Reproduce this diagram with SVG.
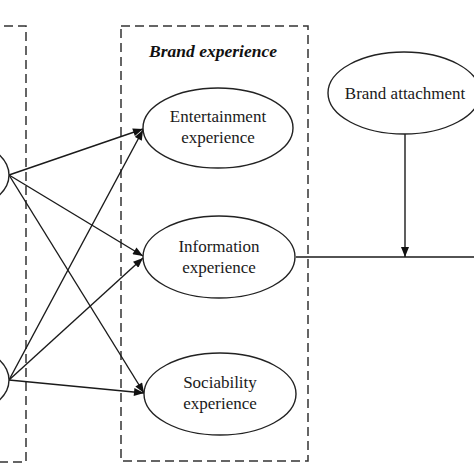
<svg xmlns="http://www.w3.org/2000/svg" width="474" height="474" viewBox="0 0 474 474">
<style>
.box{fill:none;stroke:#333;stroke-width:1.5;stroke-dasharray:9,5}
.node{fill:#fff;stroke:#222;stroke-width:1.4}
.t{font-family:"Liberation Serif","Times New Roman",serif;font-size:17px;fill:#1a1a1a;text-anchor:middle}
.title{font-family:"Liberation Serif","Times New Roman",serif;font-size:17.5px;font-weight:bold;font-style:italic;fill:#111;text-anchor:middle}
.edge{fill:none;stroke:#1a1a1a;stroke-width:1.4}
</style>
<defs>
<marker id="ah" viewBox="0 0 10 8" refX="10" refY="4" markerWidth="11" markerHeight="8" markerUnits="userSpaceOnUse" orient="auto">
<path d="M0,0 L10,4 L0,8 Z" fill="#111"/>
</marker>
</defs>
<rect class="box" x="-150" y="26" width="176" height="436"/>
<rect class="box" x="121" y="26" width="187" height="435"/>
<text class="title" x="213" y="57">Brand experience</text>
<g id="connectors">
<line class="edge" x1="9" y1="175" x2="143" y2="129" marker-end="url(#ah)"/>
<line class="edge" x1="9" y1="175" x2="143" y2="256" marker-end="url(#ah)"/>
<line class="edge" x1="9" y1="175" x2="144" y2="393" marker-end="url(#ah)"/>
<line class="edge" x1="9" y1="380" x2="143" y2="130" marker-end="url(#ah)"/>
<line class="edge" x1="9" y1="380" x2="143" y2="258" marker-end="url(#ah)"/>
<line class="edge" x1="9" y1="380" x2="144" y2="393" marker-end="url(#ah)"/>
<line class="edge" x1="296" y1="257" x2="474" y2="257"/>
<line class="edge" x1="405" y1="134" x2="405" y2="257" marker-end="url(#ah)"/>
</g>
<g id="left1"><ellipse class="node" cx="-67" cy="175" rx="76" ry="41"/></g>
<g id="left2"><ellipse class="node" cx="-67" cy="380" rx="76" ry="41"/></g>
<g id="entertainment">
<ellipse class="node" cx="218" cy="128" rx="75" ry="40"/>
<text class="t" x="218" y="122">Entertainment</text>
<text class="t" x="218" y="143">experience</text>
</g>
<g id="information">
<ellipse class="node" cx="219" cy="257" rx="76" ry="41"/>
<text class="t" x="219" y="252">Information</text>
<text class="t" x="219" y="273">experience</text>
</g>
<g id="sociability">
<ellipse class="node" cx="220" cy="394" rx="76" ry="41"/>
<text class="t" x="220" y="388">Sociability</text>
<text class="t" x="220" y="409">experience</text>
</g>
<g id="attachment">
<ellipse class="node" cx="404" cy="93" rx="76" ry="41"/>
<text class="t" x="405" y="99">Brand attachment</text>
</g>
</svg>
